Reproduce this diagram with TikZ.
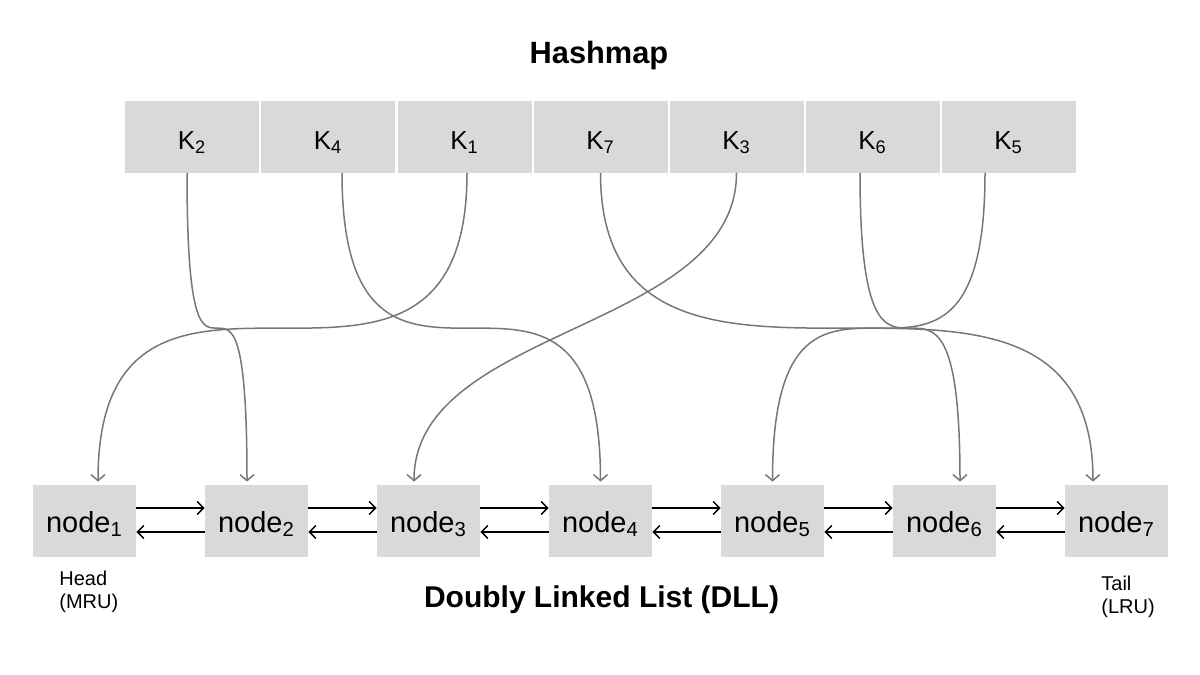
\documentclass[tikz,border=0pt]{standalone}
\usepackage{xcolor}
\usepackage{fontspec}
\setmainfont{Liberation Sans}
\usepackage{tikz}
\usetikzlibrary{arrows.meta}
\definecolor{boxgray}{HTML}{D9D9D9}
\definecolor{linkgray}{HTML}{777777}

\begin{document}
\begin{tikzpicture}[x=0.5pt, y=-0.5pt,
	keybox/.style={shape=rectangle, fill=boxgray, inner sep=0, minimum width=67pt, minimum height=35.75pt, text height=14pt, text depth=1.5pt, font=\fontsize{13}{15}\selectfont},
	listbox/.style={shape=rectangle, fill=boxgray, inner sep=0, minimum width=51.5pt, minimum height=35.75pt, text height=13pt, text depth=1.5pt, font=\fontsize{14.5}{17}\selectfont},
	sidenote/.style={anchor=base west, align=left, inner sep=0, font=\fontsize{10}{11.5}\selectfont},
	link/.style={draw=linkgray, line width=0.75pt, -{Straight Barb[length=3pt, width=7pt]}, shorten >=1.5pt},
	ptr/.style={draw=black, line width=0.75pt, -{Straight Barb[length=3.2pt, width=6.5pt]}},
	drop/.style={out=-90, in=90, distance=155pt}]
	\useasboundingbox (0, 0) rectangle (1200, 675);
	% Boxes, titles and links:
	\node[anchor=base, font=\fontsize{15.4}{18}\selectfont\bfseries] (Title1) at (599, 63.3) {Hashmap};
	\node[keybox] (K2) at (192, 136.75) {K\textsubscript{2}};
	\node[keybox] (K4) at (328, 136.75) {K\textsubscript{4}};
	\node[keybox] (K1) at (464.5, 136.75) {K\textsubscript{1}};
	\node[keybox] (K7) at (600.5, 136.75) {K\textsubscript{7}};
	\node[keybox] (K3) at (736.5, 136.75) {K\textsubscript{3}};
	\node[keybox] (K6) at (872.5, 136.75) {K\textsubscript{6}};
	\node[keybox] (K5) at (1008.5, 136.75) {K\textsubscript{5}};
	\node[listbox] (N1) at (84.5, 520.75) {node\textsubscript{1}};
	\node[listbox] (N2) at (256.5, 520.75) {node\textsubscript{2}};
	\node[listbox] (N3) at (428.5, 520.75) {node\textsubscript{3}};
	\node[listbox] (N4) at (600.5, 520.75) {node\textsubscript{4}};
	\node[listbox] (N5) at (772.5, 520.75) {node\textsubscript{5}};
	\node[listbox] (N6) at (944.5, 520.75) {node\textsubscript{6}};
	\node[listbox] (N7) at (1116.5, 520.75) {node\textsubscript{7}};
	\node[sidenote] (Head) at (59, 608) {Head\\(MRU)};
	\node[sidenote] (Tail) at (1101, 613) {Tail\\(LRU)};
	\node[anchor=base, font=\fontsize{15}{18}\selectfont\bfseries] (Title2) at (601.5, 607) {Doubly Linked List (DLL)};
	\draw[link] ([shift={(-5,0)}]K2.south) to[drop] ([shift={(-9.5,0)}]N2.north);
	\draw[link] ([shift={(14,0)}]K4.south) to[drop] (N4.north);
	\draw[link] ([shift={(2.5,0)}]K1.south) to[drop] ([shift={(13.5,0)}]N1.north);
	\draw[link] (K7.south) to[drop] ([shift={(-23.5,0)}]N7.north);
	\draw[link] (K3.south) to[out=-90, in=90, distance=79pt] ([shift={(-14.5,0)}]N3.north);
	\draw[link] ([shift={(-12.5,0)}]K6.south) to[drop] ([shift={(15.5,0)}]N6.north);
	\draw[link] ([shift={(-23.5,0)}]K5.south) to[drop] (N5.north);
	\draw[ptr] ([yshift=6.4pt]N1.east) -- ([yshift=6.4pt]N2.west);
	\draw[ptr] ([yshift=-5.6pt]N2.west) -- ([yshift=-5.6pt]N1.east);
	\draw[ptr] ([yshift=6.4pt]N2.east) -- ([yshift=6.4pt]N3.west);
	\draw[ptr] ([yshift=-5.6pt]N3.west) -- ([yshift=-5.6pt]N2.east);
	\draw[ptr] ([yshift=6.4pt]N3.east) -- ([yshift=6.4pt]N4.west);
	\draw[ptr] ([yshift=-5.6pt]N4.west) -- ([yshift=-5.6pt]N3.east);
	\draw[ptr] ([yshift=6.4pt]N4.east) -- ([yshift=6.4pt]N5.west);
	\draw[ptr] ([yshift=-5.6pt]N5.west) -- ([yshift=-5.6pt]N4.east);
	\draw[ptr] ([yshift=6.4pt]N5.east) -- ([yshift=6.4pt]N6.west);
	\draw[ptr] ([yshift=-5.6pt]N6.west) -- ([yshift=-5.6pt]N5.east);
	\draw[ptr] ([yshift=6.4pt]N6.east) -- ([yshift=6.4pt]N7.west);
	\draw[ptr] ([yshift=-5.6pt]N7.west) -- ([yshift=-5.6pt]N6.east);
\end{tikzpicture}
\end{document}
